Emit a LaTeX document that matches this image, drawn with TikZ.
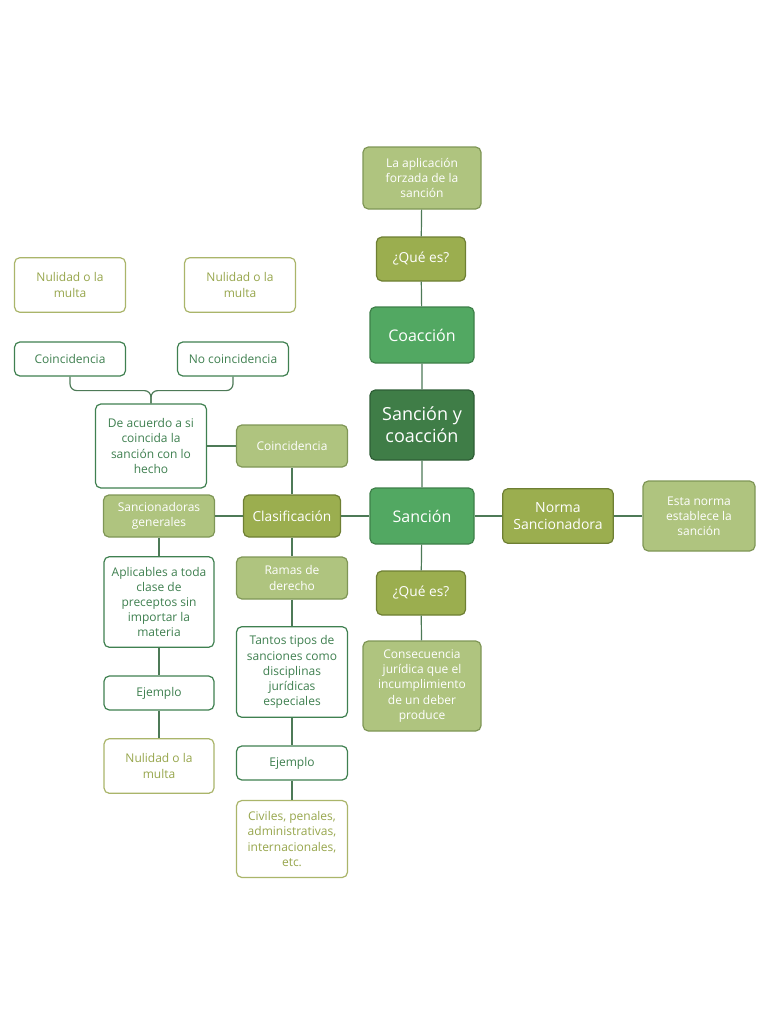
\documentclass[tikz,border=0pt]{standalone}
\usepackage{fontspec}
\setmainfont{Open Sans}
\definecolor{verdeosc}{HTML}{3F7D47}
\definecolor{verdeoscb}{HTML}{2E5E35}
\definecolor{verdemed}{HTML}{52A862}
\definecolor{verdemedb}{HTML}{3E8049}
\definecolor{oliva}{HTML}{9BAE4F}
\definecolor{olivab}{HTML}{6E7F33}
\definecolor{olivacl}{HTML}{AFC47F}
\definecolor{olivaclb}{HTML}{7F9656}
\definecolor{lineav}{HTML}{4D7A57}
\definecolor{textov}{HTML}{3F8050}
\definecolor{textoo}{HTML}{97A64C}
\definecolor{bordeo}{HTML}{AAB56A}
\tikzset{
  caja/.style={draw, rounded corners=4pt, align=center, inner sep=1pt,
    line width=0.9pt, font=\fontsize{9}{11.3}\selectfont},
  central/.style={caja, fill=verdeosc, draw=verdeoscb, text=white,
    font=\fontsize{13.5}{16.5}\selectfont},
  principal/.style={caja, fill=verdemed, draw=verdemedb, text=white,
    font=\fontsize{12}{14}\selectfont},
  pregunta/.style={caja, fill=oliva, draw=olivab, text=white,
    font=\fontsize{10.3}{12.5}\selectfont},
  claro/.style={caja, fill=olivacl, draw=olivaclb, text=white},
  blancov/.style={caja, fill=white, draw=textov, text=textov},
  blancoo/.style={caja, fill=white, draw=bordeo, text=textoo},
  enlace/.style={draw=lineav, line width=0.9pt}
}
\begin{document}
\begin{tikzpicture}[x=0.75pt,y=-0.75pt]
    \useasboundingbox (0,0) rectangle (768,1024);

    % eje central
    \node[claro, minimum width=88.5pt, minimum height=46.5pt] (aplicacion) at (422,178)
    {La aplicación\\forzada de la\\sanción};
    \node[pregunta, minimum width=66.75pt, minimum height=33pt] (quees1) at (421,259) {¿Qué es?};
    \node[principal, minimum width=78pt, minimum height=42pt] (coaccion) at (422,335) {Coacción};
    \node[central, minimum width=78pt, minimum height=52.5pt] (raiz) at (422,425)
    {Sanción y\\coacción};
    \node[principal, minimum width=78pt, minimum height=42pt] (sancion) at (422,516) {Sanción};
    \node[pregunta, minimum width=66.75pt, minimum height=33pt] (quees2) at (421,593) {¿Qué es?};
    \node[claro, minimum width=88.5pt, minimum height=67.5pt] (consecuencia) at (422,686)
    {Consecuencia\\jurídica que el\\incumplimiento\\de un deber\\produce};

    % derecha
    \node[pregunta, minimum width=83pt, minimum height=41pt,
      font=\fontsize{10.5}{13}\selectfont] (norma) at (558,516) {Norma\\Sancionadora};
    \node[claro, minimum width=84pt, minimum height=52.5pt] (estanorma) at (699,516)
    {Esta norma\\establece la\\sanción};

    % clasificacion
    \node[pregunta, minimum width=72.75pt, minimum height=31.5pt] (clasif) at (292,516)
    {Clasificación};
    \node[claro, minimum width=83.25pt, minimum height=31.5pt] (coincmed) at (292,446)
    {Coincidencia};
    \node[blancov, minimum width=83.25pt, minimum height=63pt] (deacuerdo) at (151,446)
    {De acuerdo a si\\coincida la\\sanción con lo\\hecho};
    \node[blancov, minimum width=83.25pt, minimum height=25.5pt] (coincizq) at (70,359)
    {Coincidencia};
    \node[blancov, minimum width=83.25pt, minimum height=25.5pt] (nocoinc) at (233,359)
    {No coincidencia};
    \node[blancoo, minimum width=83.25pt, minimum height=41pt] (nulidad1) at (70,285)
    {Nulidad o la\\multa};
    \node[blancoo, minimum width=83.25pt, minimum height=41pt] (nulidad2) at (240,285)
    {Nulidad o la\\multa};

    % rama izquierda
    \node[claro, minimum width=83.25pt, minimum height=31.5pt] (generales) at (159,516)
    {Sancionadoras\\generales};
    \node[blancov, minimum width=82.5pt, minimum height=68pt] (aplicables) at (159,602)
    {Aplicables a toda\\clase de\\preceptos sin\\importar la\\materia};
    \node[blancov, minimum width=82.5pt, minimum height=25.5pt] (ejemplo1) at (159,693)
    {Ejemplo};
    \node[blancoo, minimum width=82.5pt, minimum height=41pt] (nulidad3) at (159,766)
    {Nulidad o la\\multa};

    % rama media
    \node[claro, minimum width=83.25pt, minimum height=31.5pt] (ramas) at (292,578)
    {Ramas de\\derecho};
    \node[blancov, minimum width=83.25pt, minimum height=68pt] (tantos) at (292,672)
    {Tantos tipos de\\sanciones como\\disciplinas\\jurídicas\\especiales};
    \node[blancov, minimum width=83.25pt, minimum height=25.5pt] (ejemplo2) at (292,763)
    {Ejemplo};
    \node[blancoo, minimum width=83.25pt, minimum height=57.75pt] (civiles) at (292,839)
    {Civiles, penales,\\administrativas,\\internacionales,\\etc.};

    % conexiones
    \draw[enlace] (aplicacion) -- (quees1) -- (coaccion) -- (raiz) -- (sancion)
    -- (quees2) -- (consecuencia);
    \draw[enlace] (sancion) -- (norma) -- (estanorma);
    \draw[enlace] (sancion) -- (clasif) -- (generales) -- (aplicables)
    -- (ejemplo1) -- (nulidad3);
    \draw[enlace] (clasif) -- (ramas) -- (tantos) -- (ejemplo2) -- (civiles);
    \draw[enlace] (clasif) -- (coincmed) -- (deacuerdo);
    \draw[enlace, rounded corners=5pt] (coincizq.south) -- ++(0,14) -| (deacuerdo.north);
    \draw[enlace, rounded corners=5pt] (nocoinc.south) -- ++(0,14) -| (deacuerdo.north);
\end{tikzpicture}
\end{document}
